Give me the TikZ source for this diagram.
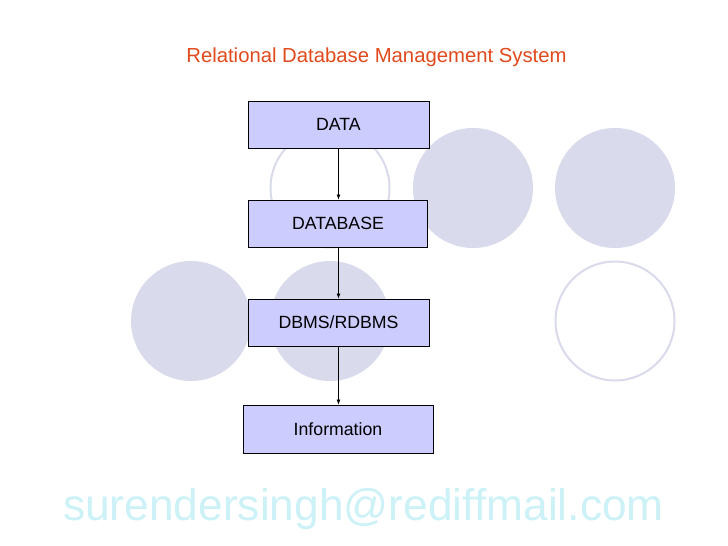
\documentclass[tikz,border=0pt]{standalone}
\usepackage{fontspec}
\setmainfont{Liberation Sans}
\usetikzlibrary{arrows.meta}
\definecolor{boxfill}{HTML}{CCCCFF}
\definecolor{circfill}{HTML}{DADAED}
\definecolor{titlecol}{HTML}{E04A1C}
\definecolor{mailcol}{HTML}{CCF2F8}
\tikzset{
  fcirc/.style={circle, fill=circfill, draw=none, minimum size=120pt, inner sep=0pt},
  ocirc/.style={circle, draw=circfill, line width=2pt, fill=white, minimum size=119pt, inner sep=0pt},
  stepbox/.style={rectangle, draw=black, line width=0.9pt, fill=boxfill, inner sep=0pt,
    font=\fontsize{17.7}{20}\selectfont},
  conn/.style={-{Latex[length=5pt,width=4pt]}, line width=0.7pt, black},
}
\begin{document}
\begin{tikzpicture}[x=1pt,y=-1pt]
\useasboundingbox[fill=white] (0,0) rectangle (728,546);
% circles
\node[ocirc] (c1) at (330,188) {};
\node[fcirc] (c2) at (473,188) {};
\node[fcirc] (c3) at (615,188) {};
\node[fcirc] (c4) at (191,321) {};
\node[fcirc] (c5) at (330,321) {};
\node[ocirc] (c6) at (615,321) {};
% title
\node[font=\fontsize{20.3}{24}\selectfont, text=titlecol, anchor=base, inner sep=0pt] (title) at (376.5,62) {Relational Database Management System};
% boxes
\node[stepbox, minimum width=181pt, minimum height=47pt] (data) at (338.5,124.5) {DATA};
\node[stepbox, minimum width=179pt, minimum height=47pt] (db) at (338,223.5) {DATABASE};
\node[stepbox, minimum width=181pt, minimum height=47pt] (dbms) at (338.5,322.5) {DBMS/RDBMS};
\node[stepbox, minimum width=190pt, minimum height=48pt] (info) at (338,429) {Information};
% connectors
\draw[conn] (data.south) -- (data.south |- db.north);
\draw[conn] (db.south -| data.south) -- (data.south |- dbms.north);
\draw[conn] (dbms.south) -- (dbms.south |- info.north);
% email
\node[font=\fontsize{44.3}{48}\selectfont, text=mailcol, anchor=base, inner sep=0pt] (mail) at (363.5,520) {surendersingh@rediffmail.com};
\end{tikzpicture}
\end{document}
